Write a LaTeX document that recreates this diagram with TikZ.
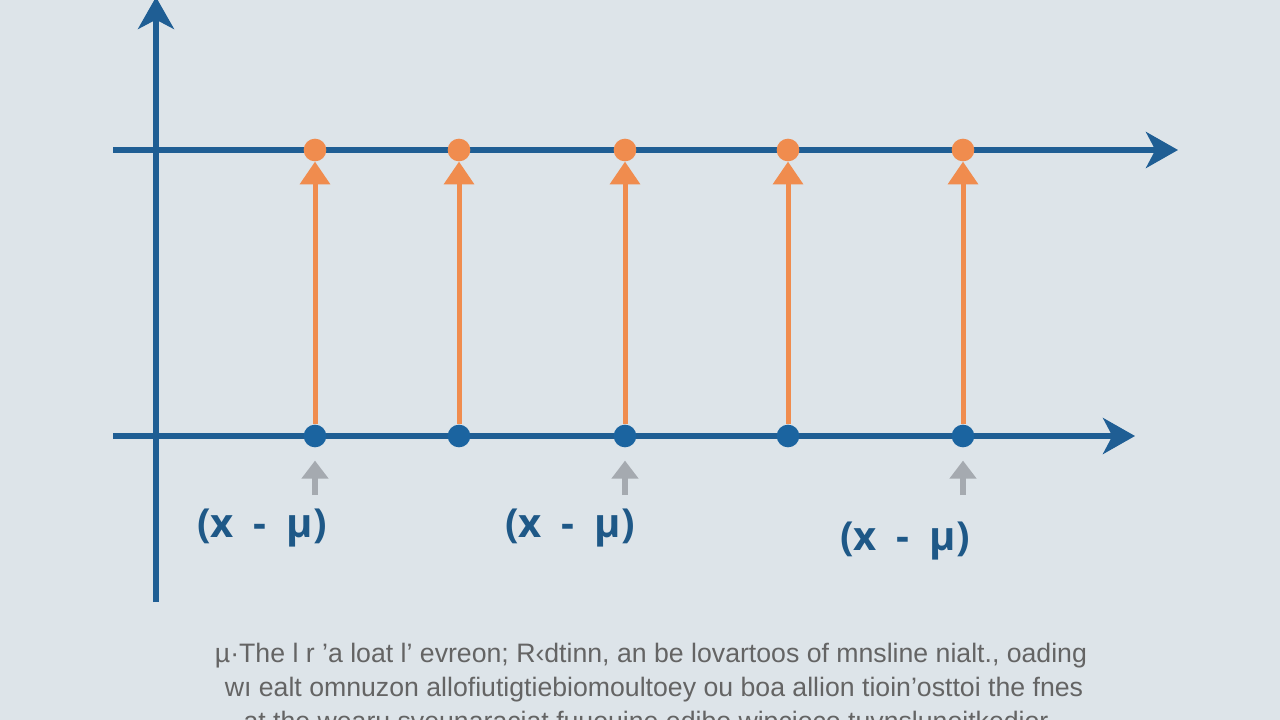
\documentclass[tikz,border=0pt]{standalone}
\usepackage{fontspec}
\setmainfont{Open Sans}
\newfontfamily\notefont{Liberation Sans}
\usetikzlibrary{arrows.meta}
\definecolor{bgcol}{RGB}{221,228,233}
\definecolor{axisblue}{RGB}{31,94,148}
\definecolor{dotblue}{RGB}{27,100,160}
\definecolor{vecorange}{RGB}{240,140,78}
\definecolor{markgray}{RGB}{165,170,176}
\definecolor{lblblue}{RGB}{30,88,135}
\definecolor{notegray}{RGB}{100,100,100}
\tikzset{
  axis/.style={draw=axisblue,line width=3.9pt,-{Stealth[length=24pt,width=27pt,inset=7pt]}},
  topdot/.style={circle,fill=vecorange,inner sep=0pt,minimum size=17pt},
  botdot/.style={circle,fill=dotblue,inner sep=0pt,minimum size=17pt},
  vecarrow/.style={draw=vecorange,line width=3.75pt,-{Triangle[length=17pt,width=22pt]}},
  markarrow/.style={draw=markgray,line width=4.5pt,shorten >=9.75pt,-{Triangle[length=13.5pt,width=19.5pt]}},
  lbl/.style={text=lblblue,font=\fontsize{30}{34}\selectfont\bfseries,inner sep=0pt},
  noteline/.style={text=notegray,font=\notefont\fontsize{20}{24}\selectfont,inner sep=0pt,anchor=base}
}
\begin{document}
\begin{tikzpicture}[x=0.75pt,y=0.75pt,yscale=-1,xscale=1]
\fill[bgcol] (0,0) rectangle (1280,720);
\useasboundingbox (0,0) rectangle (1280,720);

% Axes
\coordinate (yb) at (156,602);
\coordinate (yt) at (156,-3);
\coordinate (ul) at (113,150);
\coordinate (ur) at (1178,150);
\coordinate (ll) at (113,436);
\coordinate (lr) at (1135,436);
\draw[axis] (yb) -- (yt);
\draw[axis] (ul) -- (ur);
\draw[axis] (ll) -- (lr);

% Dots
\foreach \x [count=\i] in {315,459,625,788,963} {
  \node[topdot] (t\i) at (\x,150) {};
  \node[botdot] (b\i) at (\x,436) {};
  \coordinate (g\i) at (\x,495);
}

% Vectors
\foreach \i in {1,...,5} \draw[vecarrow] (b\i) -- (t\i);

% Markers
\foreach \i in {1,3,5} \draw[markarrow] (g\i) -- (b\i);

% Text Node
\node[lbl] (m1) at (262,528) {(x\enspace-\enspace μ)};
% Text Node
\node[lbl] (m3) at (570,528) {(x\enspace-\enspace μ)};
% Text Node
\node[lbl] (m5) at (905,541) {(x\enspace-\enspace μ)};

% Text Node
\node[noteline] (n1) at (651,662) {µ·The l  r ’a loat l’ evreon; R‹dtinn, an be lovartoos of mnsline nialt., oading};
% Text Node
\node[noteline] (n2) at (654,696) {wı ealt omnuzon allofiutigtiebiomoultoey ou boa allion tioin’osttoi the fnes};
% Text Node
\node[noteline] (n3) at (646,730) {at the wearu sveunaraciat fuuouine edibo wipcioco tuvnslunoitkedior};

\end{tikzpicture}
\end{document}
